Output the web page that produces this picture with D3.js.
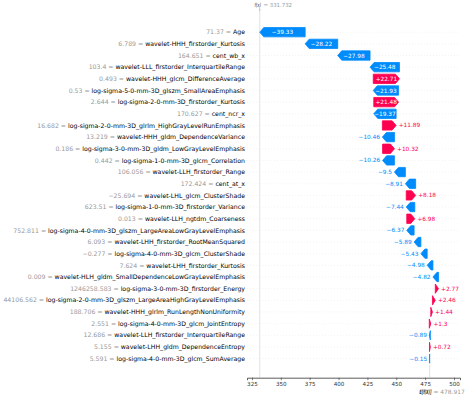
<!DOCTYPE html>
<html>
<head>
<meta charset="utf-8">
<script src="https://cdn.jsdelivr.net/npm/d3@7"></script>
<style>
  html, body { margin: 0; padding: 0; background: #fff; }
  svg { display: block; font-family: "DejaVu Sans", sans-serif; }
</style>
</head>
<body>
<svg id="chart" width="474" height="395"></svg>
<script>
// ---------- data ----------
const featureNames = [
  "Age",
  "wavelet-HHH_firstorder_Kurtosis",
  "cent_wb_x",
  "wavelet-LLL_firstorder_InterquartileRange",
  "wavelet-HHH_glcm_DifferenceAverage",
  "log-sigma-5-0-mm-3D_glszm_SmallAreaEmphasis",
  "log-sigma-2-0-mm-3D_firstorder_Kurtosis",
  "cent_ncr_x",
  "log-sigma-2-0-mm-3D_glrlm_HighGrayLevelRunEmphasis",
  "wavelet-HHH_gldm_DependenceVariance",
  "log-sigma-3-0-mm-3D_gldm_LowGrayLevelEmphasis",
  "log-sigma-1-0-mm-3D_glcm_Correlation",
  "wavelet-LLH_firstorder_Range",
  "cent_at_x",
  "wavelet-LHL_glcm_ClusterShade",
  "log-sigma-1-0-mm-3D_firstorder_Variance",
  "wavelet-LLH_ngtdm_Coarseness",
  "log-sigma-4-0-mm-3D_glszm_LargeAreaLowGrayLevelEmphasis",
  "wavelet-LHH_firstorder_RootMeanSquared",
  "log-sigma-4-0-mm-3D_glcm_ClusterShade",
  "wavelet-LHH_firstorder_Kurtosis",
  "wavelet-HLH_gldm_SmallDependenceLowGrayLevelEmphasis",
  "log-sigma-3-0-mm-3D_firstorder_Energy",
  "log-sigma-2-0-mm-3D_glszm_LargeAreaHighGrayLevelEmphasis",
  "wavelet-HHH_glrlm_RunLengthNonUniformity",
  "log-sigma-4-0-mm-3D_glcm_JointEntropy",
  "wavelet-LLH_firstorder_InterquartileRange",
  "wavelet-LHH_gldm_DependenceEntropy",
  "log-sigma-4-0-mm-3D_glcm_SumAverage"
];
const featureValues = [71.37, 6.789, 164.651, 103.4, 0.493, 0.53, 2.644, 170.627, 16.682, 13.219,
  0.186, 0.442, 106.056, 172.424, -25.694, 623.51, 0.013, 752.811, 6.093, -0.277,
  7.624, 0.009, 1246258.583, 44106.562, 188.706, 2.551, 12.686, 5.155, 5.591];
const shapValues = [-39.33, -28.22, -27.98, -25.48, 22.71, -21.93, 21.48, -19.37, 11.89, -10.46,
  10.32, -10.26, -9.5, -8.91, 8.18, -7.44, 6.98, -6.37, -5.89, -5.43,
  -4.98, -4.82, 2.77, 2.46, 1.44, 1.3, -0.89, 0.72, -0.15];
const fxValue = 331.732;
const baseValue = 478.917;
const xTicks = [325, 350, 375, 400, 425, 450, 475, 500];

// ---------- helpers ----------
const MINUS = "\u2212";
function fmt(v, d) {
  let s = Math.abs(v).toFixed(d);
  if (s.indexOf(".") >= 0) s = s.replace(/0+$/, "").replace(/\.$/, "");
  return (v < 0 ? MINUS : "") + s;
}
function fmtSigned(v) {
  let s = Math.abs(v).toFixed(2);
  s = s.replace(/0+$/, "").replace(/\.$/, "");
  return (v < 0 ? MINUS : "+") + s;
}

const BLUE = "#008bfb", RED = "#ff0051";
const svg = d3.select("#chart");
const n = shapValues.length;

const x = d3.scaleLinear().domain([320.7, 505.2]).range([247, 460]);
const y = d3.scaleLinear().domain([0, n - 1]).range([32.2, 358.6]);
const rowH = (y(1) - y(0)) * 0.8;
const axisY = 377.7;

// cumulative positions (from the base value at the bottom upwards)
const rows = [];
let cum = baseValue;
for (let i = n - 1; i >= 0; i--) {
  const s = shapValues[i];
  rows[i] = { i, s, start: cum, end: cum + s };
  cum += s;
}

// ---------- gridlines ----------
const grid = svg.append("g");
rows.forEach(r => {
  grid.append("line")
    .attr("x1", x.range()[0]).attr("x2", x.range()[1])
    .attr("y1", y(r.i)).attr("y2", y(r.i))
    .attr("stroke", "#d4d4d4").attr("stroke-width", 0.5)
    .attr("stroke-dasharray", "0.6,2.4");
});
grid.append("line")
  .attr("x1", x(fxValue)).attr("x2", x(fxValue))
  .attr("y1", 9).attr("y2", axisY)
  .attr("stroke", "#cfcfcf").attr("stroke-width", 0.6);
grid.append("line")
  .attr("x1", x(baseValue)).attr("x2", x(baseValue))
  .attr("y1", axisY - 12.7).attr("y2", axisY)
  .attr("stroke", "#cfcfcf").attr("stroke-width", 0.6);

// ---------- bars ----------
const hlMax = 4;
const bars = svg.append("g");
rows.forEach(r => {
  const x0 = x(r.start), x1 = x(r.end);
  const w = Math.abs(x1 - x0);
  const hl = Math.min(hlMax, w);
  const yc = y(r.i), yt = yc - rowH / 2, yb = yc + rowH / 2;
  let pts;
  if (r.s >= 0) {
    pts = [[x0, yt], [x1 - hl, yt], [x1, yc], [x1 - hl, yb], [x0, yb]];
  } else {
    pts = [[x0, yt], [x1 + hl, yt], [x1, yc], [x1 + hl, yb], [x0, yb]];
  }
  const col = r.s >= 0 ? RED : BLUE;
  bars.append("path")
    .attr("d", "M" + pts.map(p => p.join(",")).join("L") + "Z")
    .attr("fill", col).attr("stroke", col).attr("stroke-width", 0.8)
    .attr("stroke-linejoin", "miter");

  const label = bars.append("text")
    .attr("y", yc).attr("dy", "0.35em")
    .attr("font-size", "5.8px")
    .text(fmtSigned(r.s));
  const tw = label.node().getComputedTextLength();
  if (tw < w + 0.5) {
    label.attr("x", (x0 + x1) / 2).attr("text-anchor", "middle").attr("fill", "#fff");
  } else if (r.s >= 0) {
    label.attr("x", Math.max(x0, x1) + 2.6).attr("text-anchor", "start").attr("fill", col);
  } else {
    label.attr("x", Math.min(x0, x1) - 2.4).attr("text-anchor", "end").attr("fill", col);
  }
});

// ---------- y labels ----------
const ylab = svg.append("g").attr("font-size", "6.2px");
featureNames.forEach((name, i) => {
  const t = ylab.append("text")
    .attr("x", 245).attr("y", y(i)).attr("dy", "0.35em")
    .attr("text-anchor", "end");
  t.append("tspan").attr("fill", "#999999").text(fmt(featureValues[i], 3) + " = ");
  t.append("tspan").attr("fill", "#000000").text(name);
});

// ---------- x axis ----------
const axis = d3.axisBottom(x).tickValues(xTicks).tickSize(2.5).tickPadding(1.5)
  .tickFormat(d3.format("d"));
const gx = svg.append("g").attr("transform", `translate(0,${axisY})`).call(axis);
gx.select(".domain").attr("stroke", "#333333").attr("stroke-width", 0.8);
gx.selectAll(".tick line").attr("stroke", "#333333").attr("stroke-width", 0.6);
gx.selectAll(".tick text").attr("fill", "#333333").attr("font-size", "5.6px")
  .attr("font-family", "DejaVu Sans, sans-serif");

// ---------- f(x) and E[f(X)] labels ----------
const ann = svg.append("g");
ann.append("text").attr("transform", "translate(254.5,7) scale(0.68,1)")
  .attr("font-size", "5.6px")
  .attr("fill", "#333333").attr("font-style", "italic")
  .text("f(x)");
ann.append("text").attr("x", 263.5).attr("y", 7).attr("font-size", "5.4px")
  .attr("fill", "#999999").text("= " + fmt(fxValue, 3));
ann.append("line").attr("x1", x(fxValue)).attr("x2", x(fxValue))
  .attr("y1", 8).attr("y2", 11).attr("stroke", "#999").attr("stroke-width", 0.5);

ann.append("text").attr("transform", "translate(419.5,393.5) scale(0.55,1)")
  .attr("font-size", "5.8px")
  .attr("fill", "#222222").attr("font-style", "italic").attr("font-weight", "bold")
  .text("E[f(X)]");
ann.append("text").attr("x", 433.5).attr("y", 393.5).attr("font-size", "5.9px")
  .attr("fill", "#999999").text("= " + fmt(baseValue, 3));
</script>
</body>
</html>
